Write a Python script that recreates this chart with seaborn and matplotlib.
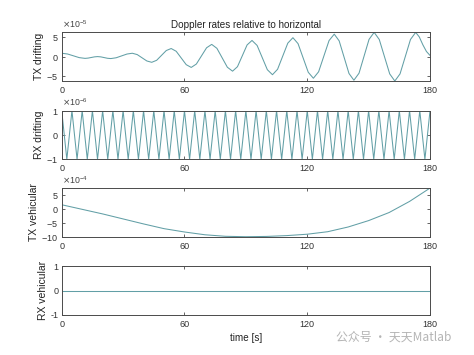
import numpy as np
import pandas as pd
import matplotlib
matplotlib.use("Agg")
import matplotlib.pyplot as plt
import seaborn as sns

# ---- values ----
# TX drifting (units of 1e-5), sampled around peaks/troughs
tx_drift_t = [0, 2.85, 5.7, 8.55, 11.4, 12.9, 14.45, 16.0, 17.5, 19.1, 20.75, 22.4,
              24, 26.6, 29.25, 31.9, 34.5, 36.9, 39.25, 41.6, 44, 46.4, 48.75, 51.1,
              53.5, 55.95, 58.4, 60.85, 63.3, 65.8, 68.3, 70.8, 73.3, 75.85, 78.4, 80.95,
              83.5, 85.9, 88.25, 90.6, 93, 95.5, 98, 100.5, 103, 105.5, 108, 110.5,
              113, 115.5, 118, 120.5, 123, 125.55, 128.1, 130.65, 133.2, 135.6, 138, 140.4,
              142.8, 145.3, 147.75, 150.2, 152.7, 155.2, 157.75, 160.3, 162.8, 165.35, 167.9, 170.45,
              173, 174.75, 176.5, 178.25, 180]
tx_drift_v = [0.85, 0.66, 0.2, -0.26, -0.45, -0.38, -0.225, -0.07, 0.0, -0.07, -0.25, -0.43,
              -0.5, -0.30, 0.175, 0.65, 0.85, 0.51, -0.3, -1.11, -1.45, -0.94, 0.3, 1.54,
              2.05, 1.35, -0.35, -2.05, -2.75, -1.89, 0.175, 2.24, 3.1, 2.10, -0.3, -2.70,
              -3.7, -2.56, 0.2, 2.96, 4.1, 2.83, -0.25, -3.33, -4.6, -3.22, 0.1, 3.42,
              4.8, 3.29, -0.35, -3.99, -5.5, -3.86, 0.1, 4.06, 5.7, 3.99, -0.15, -4.29,
              -6.0, -4.22, 0.08, 4.37, 6.15, 4.34, -0.03, -4.39, -6.2, -4.39, -0.03, 4.34,
              6.15, 5.0, 3.0, 1.3, 0.3]

# RX drifting (units of 1e-6): peaks/troughs every 2.5 s
rx_drift_t = [i * 2.5 for i in range(73)]
rx_drift_v = [1, -1] * 36 + [1]

# TX vehicular (units of 1e-4)
tx_veh_t = [0, 10, 20, 30, 40, 50, 60, 70, 80, 90, 100, 110, 120, 130, 140, 150, 160, 170, 180]
tx_veh_v = [1.5, -0.15, -1.8, -3.6, -5.4, -7.1, -8.3, -9.3, -9.85, -10.0, -9.9, -9.6,
            -9.1, -8.2, -6.5, -4.2, -1.3, 2.7, 7.5]

# RX vehicular
rx_veh_t = [0, 180]
rx_veh_v = [0, 0]

xticks = [0, 60, 120, 180]
panels = [
    ("TX drifting", tx_drift_t, tx_drift_v, -5, [-5, 0, 5]),
    ("RX drifting", rx_drift_t, rx_drift_v, -6, [-1, 0, 1]),
    ("TX vehicular", tx_veh_t, tx_veh_v, -4, [-10, -5, 0, 5]),
    ("RX vehicular", rx_veh_t, rx_veh_v, 0, [-1, 0, 1]),
]

sns.set_theme(style="ticks")
plt.rcParams["font.family"] = ["Liberation Sans", "DejaVu Sans"]
plt.rcParams["axes.unicode_minus"] = False
edge = "#4a4a4a"
plt.rcParams.update({
    "xtick.direction": "in", "ytick.direction": "in",
    "xtick.top": True, "ytick.right": True,
    "xtick.major.size": 2.2, "ytick.major.size": 2.2,
    "xtick.major.width": 0.6, "ytick.major.width": 0.6,
    "xtick.color": edge, "ytick.color": edge,
    "xtick.labelcolor": "#333333", "ytick.labelcolor": "#333333",
    "axes.edgecolor": edge, "axes.linewidth": 0.7,
    "xtick.labelsize": 6.5, "ytick.labelsize": 6.5,
})

line_color = "#629fa6"
fig = plt.figure(figsize=(4.74, 3.55), dpi=100)
bottoms = [0.7718, 0.5513, 0.3332, 0.1127]

for (label, t, v, power, yt), b in zip(panels, bottoms):
    ax = fig.add_axes([0.1302, b, 0.777, 0.137])
    scale = 10.0 ** power
    df = pd.DataFrame({"t": t, "v": np.array(v) * scale})
    sns.lineplot(data=df, x="t", y="v", ax=ax, color=line_color,
                 linewidth=0.75, estimator=None)
    ax.set_xlim(0, 180)
    if power == 0:
        ax.set_ylim(-1, 1)
    else:
        ax.set_ylim(df["v"].min(), df["v"].max())
    ax.set_xticks(xticks)
    ax.set_yticks(np.array(yt) * scale)
    if power != 0:
        ax.ticklabel_format(axis="y", style="sci", scilimits=(power, power),
                            useMathText=True)
        ax.yaxis.get_offset_text().set_fontsize(6.3)
        ax.yaxis.get_offset_text().set_color("#444444")
    ax.tick_params(axis="x", pad=3.5)
    ax.tick_params(axis="y", pad=2.5)
    ax.set_ylabel(label, fontsize=7.5, color="#222222", labelpad=1.5)
    ax.set_xlabel("")
    if label == "TX drifting":
        ax.set_title("Doppler rates relative to horizontal", fontsize=7.1,
                     color="#222222", pad=3)
    if label == "RX vehicular":
        ax.set_xlabel("time [s]", fontsize=7.1, color="#222222", labelpad=3)

fig.text(0.708, 0.051, "公众号 · 天天Matlab", fontsize=8.6, color="#b4b4b4",
         family=["Noto Sans CJK SC", "DejaVu Sans"], va="center", ha="left")

fig.savefig("out.png", dpi=100, facecolor="white")
